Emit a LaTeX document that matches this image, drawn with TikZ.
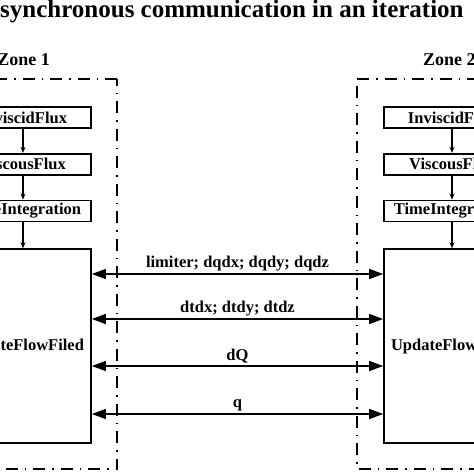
\documentclass[tikz,border=0pt]{standalone}
\usepackage{fontspec}
\setmainfont{Liberation Serif}
\usetikzlibrary{positioning,arrows.meta}
\begin{document}
\begin{tikzpicture}[x=1pt, y=-1pt, font=\fontsize{16.5}{18}\selectfont\bfseries]

        % Define styles
        \tikzstyle{block} = [rectangle, draw, line width=1.7pt, minimum width=136pt, minimum height=21pt, inner sep=0pt]
        \tikzstyle{zone} = [line width=1.3pt, dash pattern=on 12pt off 7pt on 1.5pt off 7pt]
        \tikzstyle{flow} = [-{Stealth[length=6pt,width=5pt]}, line width=1.2pt]
        \tikzstyle{swap} = [{Triangle[length=14pt,width=10pt]}-{Triangle[length=14pt,width=10pt]}, line width=1.5pt]

        \useasboundingbox (0,0) rectangle (474,474);
        \clip (0,0) rectangle (474,474);

        % Title and zone names
        \node[anchor=base west, inner sep=0pt, font=\fontsize{25}{27}\selectfont\bfseries] (title) at (0,17) {synchronous communication in an iteration};
        \node[anchor=base east, inner sep=0pt, font=\fontsize{18}{20}\selectfont\bfseries] (zonename1) at (50,65) {Zone 1};
        \node[anchor=base west, inner sep=0pt, font=\fontsize{18}{20}\selectfont\bfseries] (zonename2) at (423,65) {Zone 2};

        % Zone frames
        \draw[zone] (117,79) -- (-60,79) -- (-60,469) -- (117,469) -- cycle;
        \draw[zone] (357,79) -- (540,79) -- (540,469) -- (357,469) -- cycle;

        % Zone 1
        \node[block] (inv1) at (23,117.5) {InviscidFlux};
        \node[block, below=24pt of inv1] (visc1) {ViscousFlux};
        \node[block, below=24pt of visc1] (time1) {TimeIntegration};
        \node[block, minimum height=194pt, below=26pt of time1] (upd1) {UpdateFlowFiled};

        % Zone 2
        \node[block] (inv2) at (452,117.5) {InviscidFlux};
        \node[block, below=24pt of inv2] (visc2) {ViscousFlux};
        \node[block, below=24pt of visc2] (time2) {TimeIntegration};
        \node[block, minimum height=194pt, below=26pt of time2] (upd2) {UpdateFlowFiled};

        % Steps inside each zone
        \foreach \z in {1,2} {
            \draw[flow] (inv\z) -- (visc\z);
            \draw[flow] (visc\z) -- (time\z);
            \draw[flow] (time\z) -- (upd\z);
        }

        % Data exchanged between the zones
        \foreach \y/\data in {274/{limiter; dqdx; dqdy; dqdz}, 319/{dtdx; dtdy; dtdz}, 366/dQ, 414/q}
            \draw[swap] (upd1.east |- 0,\y) -- node[above, inner sep=2.5pt] {\data} (upd2.west |- 0,\y);

    \end{tikzpicture}
\end{document}
